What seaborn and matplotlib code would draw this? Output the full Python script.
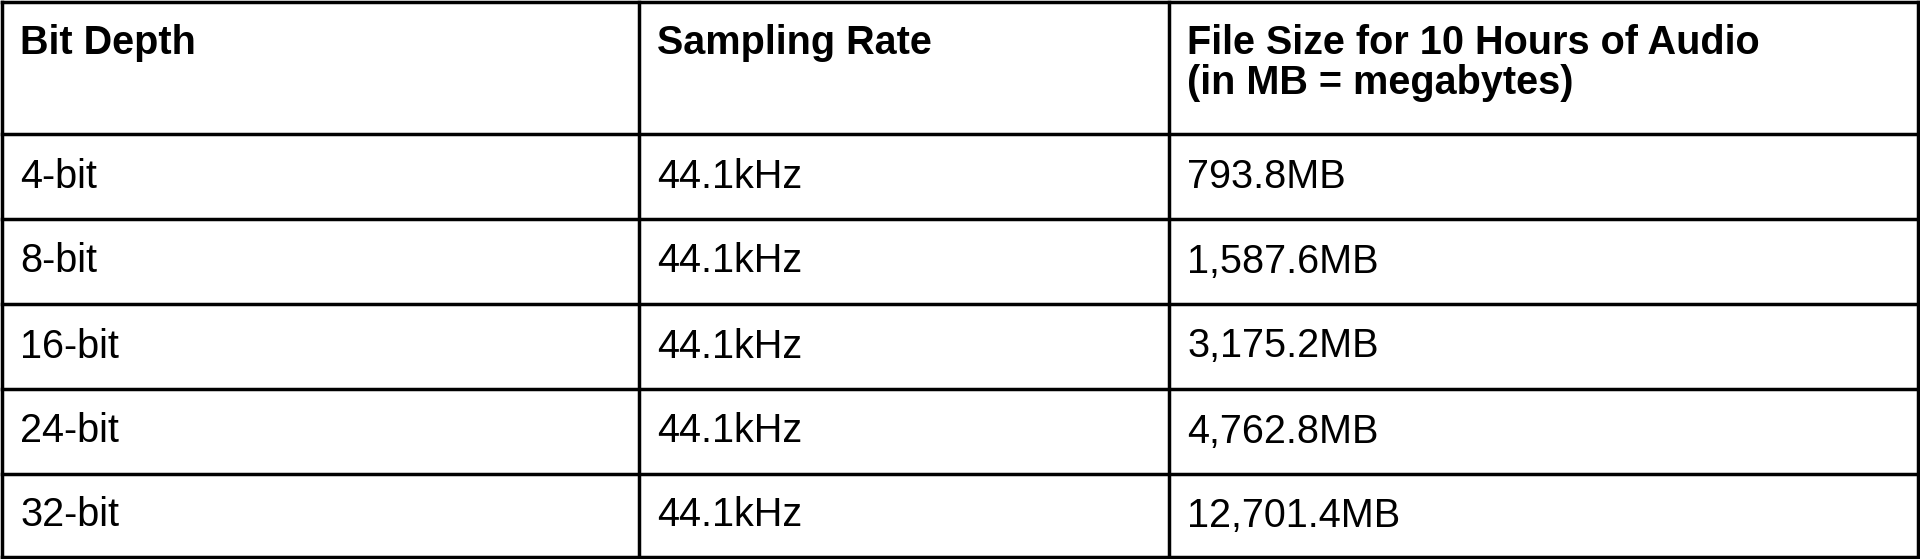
import matplotlib
matplotlib.use("Agg")
import matplotlib.pyplot as plt
import seaborn as sns

headers = ["Bit Depth", "Sampling Rate", "File Size for 10 Hours of Audio\n(in MB = megabytes)"]
bit_depths = ["4-bit", "8-bit", "16-bit", "24-bit", "32-bit"]
sampling_rates = ["44.1kHz", "44.1kHz", "44.1kHz", "44.1kHz", "44.1kHz"]
file_sizes = ["793.8MB", "1,587.6MB", "3,175.2MB", "4,762.8MB", "12,701.4MB"]

sns.set_style("white")
plt.rcParams['font.family'] = ['Liberation Sans', 'DejaVu Sans']

W, H = 1920, 559
fig = plt.figure(figsize=(W / 100, H / 100), dpi=100)
ax = fig.add_axes([0, 0, 1, 1])
ax.set_xlim(0, W)
ax.set_ylim(H, 0)
ax.axis("off")

col_x = [2, 639, 1169, 1918]
header_h = 132
row_h = (H - 2 - header_h) / len(bit_depths)
row_y = [2, 2 + header_h] + [2 + header_h + row_h * (i + 1) for i in range(len(bit_depths))]
row_y[-1] = H - 2

lw = 2.5
for x in col_x:
    ax.plot([x, x], [row_y[0], row_y[-1]], color="black", lw=lw, solid_capstyle="projecting")
for y in row_y:
    ax.plot([col_x[0], col_x[-1]], [y, y], color="black", lw=lw, solid_capstyle="projecting")

pad = 18
fs = 28.5
for i, h in enumerate(headers):
    ax.text(col_x[i] + pad, row_y[0] + 22, h, fontsize=fs, fontweight="bold",
            va="top", ha="left", linespacing=1.05, color="black")

for r, row in enumerate(zip(bit_depths, sampling_rates, file_sizes)):
    yc = (row_y[r + 1] + row_y[r + 2]) / 2
    for i, val in enumerate(row):
        ax.text(col_x[i] + pad, yc, val, fontsize=fs, va="center", ha="left", color="black")

fig.savefig("out.png", dpi=100)
